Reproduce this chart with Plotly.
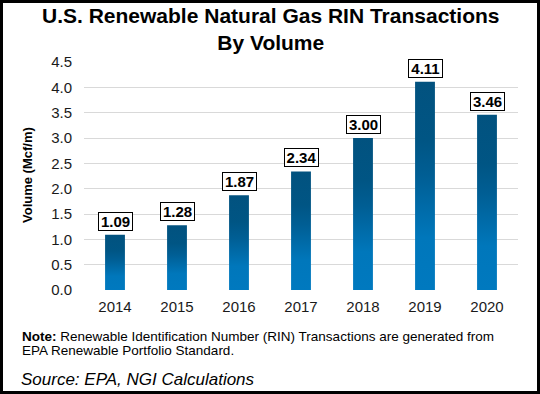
import plotly.graph_objects as go

years = ["2014", "2015", "2016", "2017", "2018", "2019", "2020"]
volumes = [1.09, 1.28, 1.87, 2.34, 3.00, 4.11, 3.46]
labels = ["1.09", "1.28", "1.87", "2.34", "3.00", "4.11", "3.46"]
y_ticks = [0, 0.5, 1.0, 1.5, 2.0, 2.5, 3.0, 3.5, 4.0, 4.5]

W, H = 540, 394
ML, MR, MT, MB = 84, 22, 62, 104
PW, PH = W - ML - MR, H - MT - MB


def px_x(px):
    return (px - ML) / PW


def px_y(py):
    return (H - MB - py) / PH


FONT = "Liberation Sans, Arial, sans-serif"
grad = [[0, "#0079bf"], [0.25, "#0077bb"], [0.55, "#005e94"],
        [0.72, "#005584"], [1, "#02527f"]]

fig = go.Figure()
hw = 0.16
for i, (yr, v) in enumerate(zip(years, volumes)):
    fig.add_trace(go.Scatter(
        x=[i - hw, i + hw, i + hw, i - hw, i - hw],
        y=[0, 0, v, v, 0],
        mode="lines", fill="toself", line=dict(width=0),
        fillgradient=dict(type="vertical", colorscale=grad),
        name=yr, showlegend=False, hoverinfo="skip",
    ))
    fig.add_annotation(
        x=i, y=v, xref="x", yref="y", text="<b>%s</b>" % labels[i],
        showarrow=False, yanchor="bottom", yshift=4,
        font=dict(family=FONT, size=15, color="#000"),
        bgcolor="white", bordercolor="black", borderwidth=1,
        borderpad=0, width=33, height=17,
    )

fig.update_layout(
    width=W, height=H,
    margin=dict(l=ML, r=MR, t=MT, b=MB, autoexpand=False),
    paper_bgcolor="white", plot_bgcolor="white",
    font=dict(family=FONT, color="#1a1a1a"),
    showlegend=False,
    xaxis=dict(
        range=[-0.5, len(years) - 0.5], tickvals=list(range(len(years))),
        ticktext=years, showgrid=False, zeroline=False, showline=False,
        tickfont=dict(size=15, color="#1a1a1a"), ticklabelstandoff=6,
        fixedrange=True,
    ),
    yaxis=dict(
        range=[0, 4.5], tickvals=y_ticks,
        ticktext=["%.1f" % t for t in y_ticks],
        showgrid=True, gridcolor="#d9d9d9", gridwidth=1,
        zeroline=False, showline=False,
        tickfont=dict(size=15, color="#1a1a1a"), ticklabelstandoff=11,
        fixedrange=True,
    ),
)

# Title
fig.add_annotation(
    xref="paper", yref="paper", x=px_x(270), y=px_y(29),
    text="<b>U.S. Renewable Natural Gas RIN Transactions<br>By Volume</b>",
    showarrow=False, xanchor="center", yanchor="middle",
    font=dict(family=FONT, size=21, color="#000"),
)
# Y axis title
fig.add_annotation(
    xref="paper", yref="paper", x=px_x(27), y=px_y(175),
    text="<b>Volume (Mcf/m)</b>", textangle=-90, showarrow=False,
    xanchor="center", yanchor="middle",
    font=dict(family=FONT, size=13, color="#000"),
)
# Note lines
fig.add_annotation(
    xref="paper", yref="paper", x=px_x(20), y=px_y(336),
    text="<b>Note:</b> Renewable Identification Number (RIN) Transactions are generated from",
    showarrow=False, xanchor="left", yanchor="middle",
    font=dict(family=FONT, size=13.5, color="#000"),
)
fig.add_annotation(
    xref="paper", yref="paper", x=px_x(20), y=px_y(350.5),
    text="EPA Renewable Portfolio Standard.",
    showarrow=False, xanchor="left", yanchor="middle",
    font=dict(family=FONT, size=13.5, color="#000"),
)
# Source
fig.add_annotation(
    xref="paper", yref="paper", x=px_x(19), y=px_y(379),
    text="<i>Source: EPA, NGI Calculations</i>",
    showarrow=False, xanchor="left", yanchor="middle",
    font=dict(family=FONT, size=17, color="#000"),
)
# Frame
fig.add_shape(
    type="rect", xref="paper", yref="paper",
    x0=px_x(1.5), x1=px_x(W - 1.5), y0=px_y(H - 1.5), y1=px_y(1.5),
    line=dict(color="black", width=3), fillcolor="rgba(0,0,0,0)",
)

fig.write_html(
    "out.html", config={"displayModeBar": False},
    post_script="document.body.style.margin='0';document.body.style.padding='0';",
)
